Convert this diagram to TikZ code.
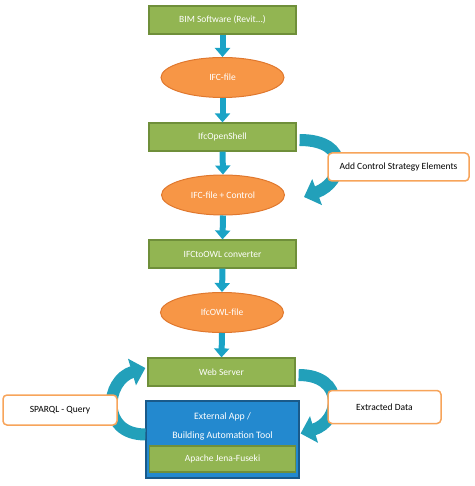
\documentclass[tikz,border=0pt]{standalone}
\usepackage{fontspec}
\setmainfont{Carlito}
\usepackage{xcolor}
\usetikzlibrary{arrows.meta,shapes.geometric}

\definecolor{boxgreen}{HTML}{92B552}
\definecolor{boxgreenedge}{HTML}{6F8F3A}
\definecolor{ovalorange}{HTML}{F79646}
\definecolor{ovaledge}{HTML}{E0782E}
\definecolor{appblue}{HTML}{2389CF}
\definecolor{appedge}{HTML}{1A5A8A}
\definecolor{arrowteal}{HTML}{1AA3C6}
\definecolor{loopteal}{HTML}{22A0BA}
\definecolor{noteedge}{HTML}{F7A45A}

\begin{document}
\begin{tikzpicture}[x=1pt,y=-1pt,
    greenbox/.style={draw=boxgreenedge,fill=boxgreen,line width=1.2pt,
        minimum width=147pt,minimum height=28pt,text=white,
        font=\fontsize{9.5}{11}\selectfont},
    orangeoval/.style={ellipse,draw=ovaledge,fill=ovalorange,line width=1pt,
        minimum width=123pt,minimum height=40pt,text=white,
        font=\fontsize{9.5}{11}\selectfont},
    appbox/.style={draw=appedge,fill=appblue,line width=1.2pt,
        minimum width=153pt,minimum height=77pt},
    notebox/.style={draw=noteedge,fill=white,rounded corners=4pt,line width=1.5pt,
        text=black,font=\fontsize{9.5}{11}\selectfont},
    flow/.style={arrowteal,line width=6pt,-{Triangle[width=15pt,length=9pt]}},
    loop/.style={loopteal,line width=12pt,-{Triangle[width=27pt,length=14pt]}}]
\useasboundingbox (0,0) rectangle (474,486);

    % main chain
    \node[greenbox]   (bim)    at (222.5,20)  {BIM Software (Revit...)};
    \node[orangeoval] (ifc)    at (222.5,77.5) {IFC-file};
    \node[greenbox]   (shell)  at (222.5,137) {IfcOpenShell};
    \node[orangeoval] (ifcctl) at (223,195)   {IFC-file + Control};
    \node[greenbox]   (conv)   at (222.5,254) {IFCtoOWL converter};
    \node[orangeoval] (owl)    at (222,312.5) {IfcOWL-file};
    \node[greenbox]   (web)    at (221.5,372) {Web Server};

    \node[appbox] (app) at (222.5,439.5) {};
    \node[text=white,align=center,font=\fontsize{9.8}{19}\selectfont]
        (apptitle) at (222.5,426) {External App /\\Building Automation Tool};
    \node[greenbox,minimum width=146pt,minimum height=26pt]
        (jena) at (222.5,459) {Apache Jena-Fuseki};

    \draw[flow] (bim.south)    -- (ifc.north);
    \draw[flow] (ifc.south)    -- (shell.north);
    \draw[flow] (shell.south)  -- (ifcctl.north);
    \draw[flow] (ifcctl.south) -- (conv.north);
    \draw[flow] (conv.south)   -- (owl.north);
    \draw[flow] (owl.south)    -- (web.north);

    % curved loops
    \draw[loop] ([shift={(3,3)}]shell.east)
        .. controls +(52,0) and +(40,-15) .. ([shift={(19,2)}]ifcctl.east);
    \draw[loop] ([shift={(0,-5)}]app.west)
        .. controls +(-46,0) and +(-40,12) .. ([shift={(-2,-4)}]web.west);
    \draw[loop] ([shift={(3,3)}]web.east)
        .. controls +(47,0) and +(40,-12) .. ([shift={(1,-6)}]app.east);

    % side notes
    \node[notebox,minimum width=141pt,minimum height=28pt]
        (addctl) at (398.5,167) {Add Control Strategy Elements};
    \node[notebox,minimum width=114pt,minimum height=30pt]
        (sparql) at (60,410) {SPARQL - Query};
    \node[notebox,minimum width=113pt,minimum height=33pt]
        (extracted) at (384.5,407) {Extracted Data};
\end{tikzpicture}
\end{document}
